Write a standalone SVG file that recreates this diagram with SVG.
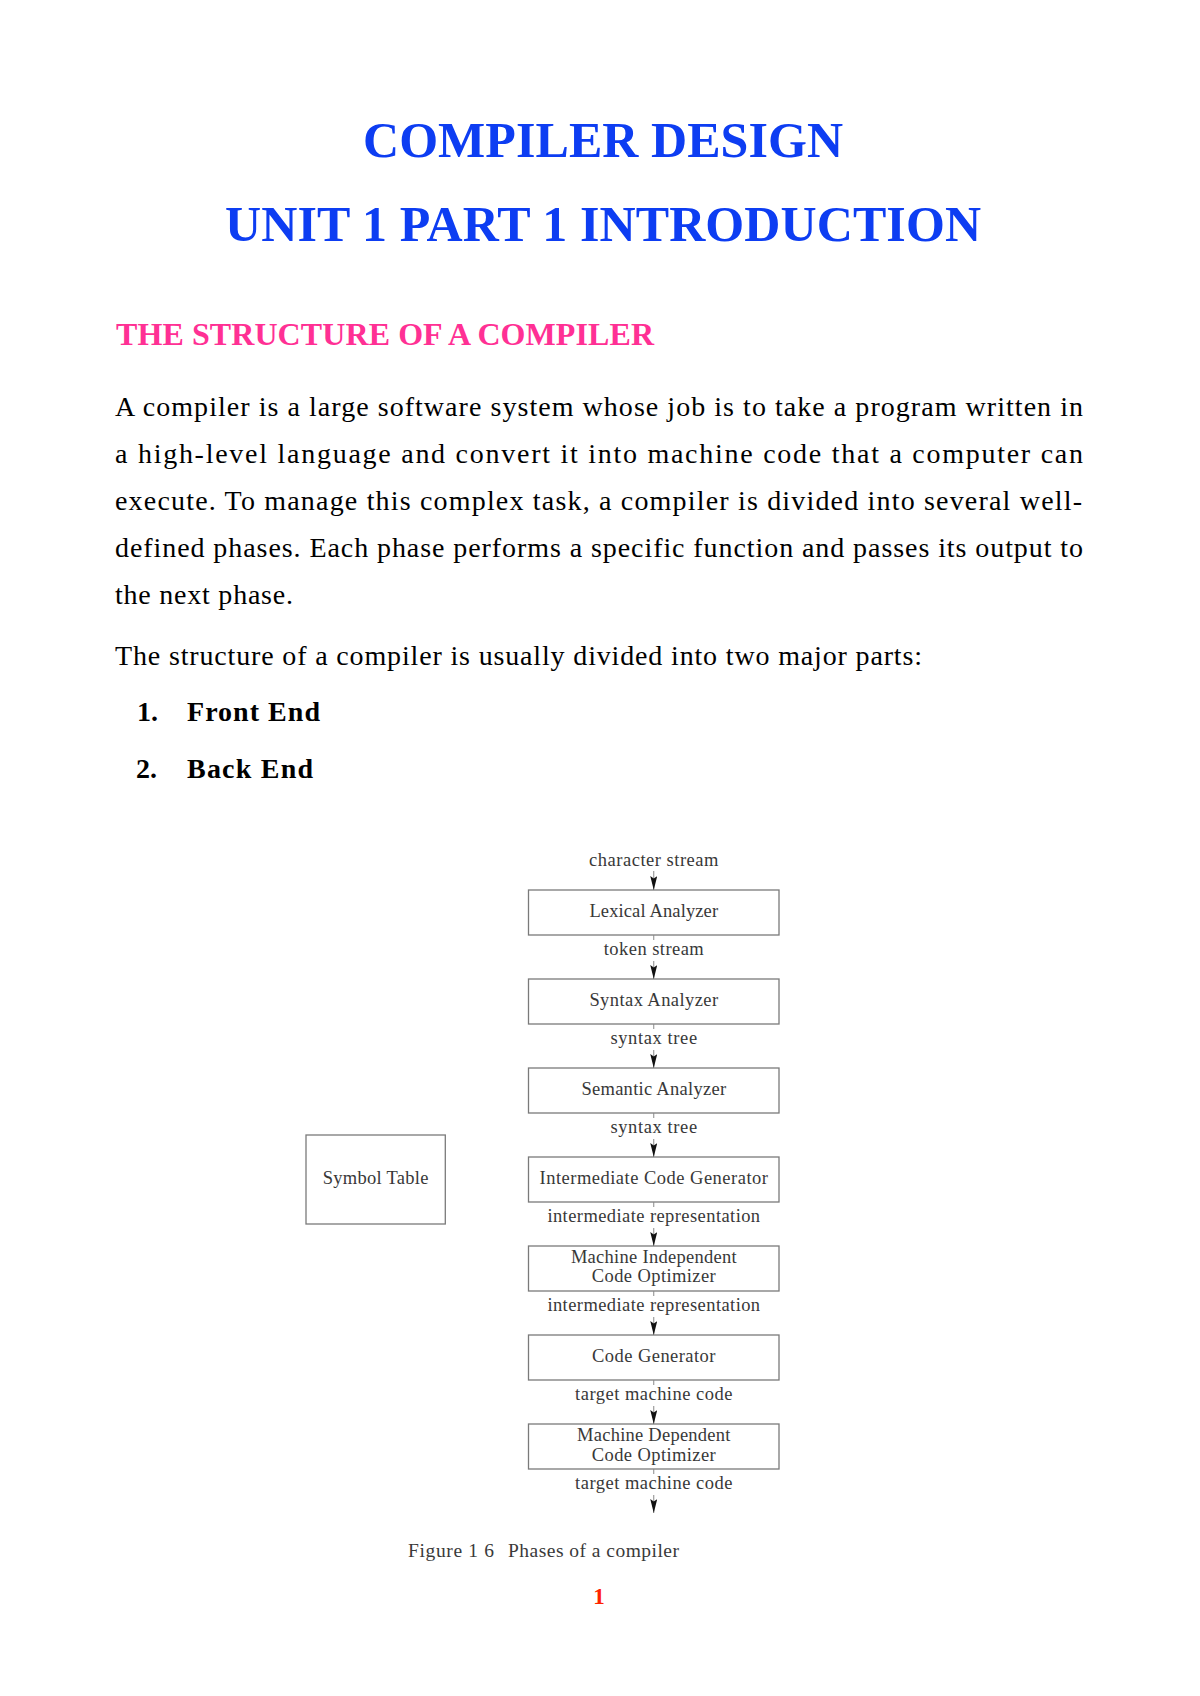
<svg xmlns="http://www.w3.org/2000/svg" width="1200" height="1696" viewBox="0 0 1200 1696">
<style>
.title{font-family:"Liberation Serif","Times New Roman",serif;font-weight:bold;font-size:50px;fill:#0d3df2;text-anchor:middle}
.head{font-family:"Liberation Serif","Times New Roman",serif;font-weight:bold;font-size:32px;fill:#ff3094}
.body{font-family:"Liberation Serif","Times New Roman",serif;font-size:28px;fill:#000}
.list{font-family:"Liberation Serif","Times New Roman",serif;font-weight:bold;font-size:28px;fill:#000}
.box{fill:#fff;stroke:#7a7a7a;stroke-width:1.3}
.lbl{font-family:"Liberation Serif","Times New Roman",serif;font-size:18.5px;fill:#383838;text-anchor:middle}
.conn{stroke:#888;stroke-width:1;fill:none}
.cap{font-family:"Liberation Serif","Times New Roman",serif;font-size:19.5px;fill:#3a3a3a}
.pg{font-family:"Liberation Serif","Times New Roman",serif;font-weight:bold;font-size:23px;fill:#ff2200;text-anchor:middle}
</style>
<defs>
<marker id="arr" viewBox="0 0 14 7" refX="14" refY="3.5" markerWidth="14" markerHeight="7" orient="auto" markerUnits="userSpaceOnUse">
<path d="M0,0 L14,3.5 L0,7 L2.5,3.5 Z" fill="#111"/>
</marker>
</defs>
<rect width="1200" height="1696" fill="#fff"/>

<text class="title" x="603" y="157" textLength="480">COMPILER DESIGN</text>
<text class="title" x="603" y="241" textLength="756">UNIT 1 PART 1 INTRODUCTION</text>

<text class="head" x="116" y="345" textLength="538">THE STRUCTURE OF A COMPILER</text>

<text class="body" x="115" y="416" textLength="968" lengthAdjust="spacing">A compiler is a large software system whose job is to take a program written in</text>
<text class="body" x="115" y="463" textLength="968" lengthAdjust="spacing">a high-level language and convert it into machine code that a computer can</text>
<text class="body" x="115" y="510" textLength="967" lengthAdjust="spacing">execute. To manage this complex task, a compiler is divided into several well-</text>
<text class="body" x="115" y="557" textLength="968" lengthAdjust="spacing">defined phases. Each phase performs a specific function and passes its output to</text>
<text class="body" x="115" y="604" textLength="178" lengthAdjust="spacing">the next phase.</text>
<text class="body" x="115" y="665" textLength="807" lengthAdjust="spacing">The structure of a compiler is usually divided into two major parts:</text>

<text class="list" x="137" y="721">1.</text>
<text class="list" x="187" y="721" textLength="133">Front End</text>
<text class="list" x="136" y="778">2.</text>
<text class="list" x="187" y="778" textLength="126">Back End</text>

<g id="lexical">
<rect class="box" x="528.5" y="890" width="250.5" height="45"/>
<text class="lbl" x="653.75" y="917" textLength="128.7">Lexical Analyzer</text>
</g>
<g id="syntax">
<rect class="box" x="528.5" y="979" width="250.5" height="45"/>
<text class="lbl" x="653.75" y="1006" textLength="128.7">Syntax Analyzer</text>
</g>
<g id="semantic">
<rect class="box" x="528.5" y="1068" width="250.5" height="45"/>
<text class="lbl" x="653.75" y="1095" textLength="144.7">Semantic Analyzer</text>
</g>
<g id="icg">
<rect class="box" x="528.5" y="1157" width="250.5" height="45"/>
<text class="lbl" x="653.75" y="1184" textLength="228.3">Intermediate Code Generator</text>
</g>
<g id="mico">
<rect class="box" x="528.5" y="1246" width="250.5" height="45"/>
<text class="lbl" x="653.75" y="1263" textLength="165.7">Machine Independent</text>
<text class="lbl" x="653.75" y="1282" textLength="124">Code Optimizer</text>
</g>
<g id="codegen">
<rect class="box" x="528.5" y="1335" width="250.5" height="45"/>
<text class="lbl" x="653.75" y="1362" textLength="123.3">Code Generator</text>
</g>
<g id="mdco">
<rect class="box" x="528.5" y="1424" width="250.5" height="45"/>
<text class="lbl" x="653.75" y="1441" textLength="153.3">Machine Dependent</text>
<text class="lbl" x="653.75" y="1461" textLength="124">Code Optimizer</text>
</g>
<g id="symtab">
<rect class="box" x="306" y="1135" width="139.3" height="89"/>
<text class="lbl" x="375.6" y="1184" textLength="105.7">Symbol Table</text>
</g>

<g id="connectors">
<text class="lbl" x="653.75" y="866" textLength="129.4">character stream</text>
<line class="conn" x1="653.75" y1="871" x2="653.75" y2="890" marker-end="url(#arr)"/>

<line class="conn" x1="653.75" y1="935" x2="653.75" y2="940"/>
<text class="lbl" x="653.75" y="955" textLength="100">token stream</text>
<line class="conn" x1="653.75" y1="961" x2="653.75" y2="979" marker-end="url(#arr)"/>

<line class="conn" x1="653.75" y1="1024" x2="653.75" y2="1029"/>
<text class="lbl" x="653.75" y="1044" textLength="86.7">syntax tree</text>
<line class="conn" x1="653.75" y1="1050" x2="653.75" y2="1068" marker-end="url(#arr)"/>

<line class="conn" x1="653.75" y1="1113" x2="653.75" y2="1118"/>
<text class="lbl" x="653.75" y="1133" textLength="86.7">syntax tree</text>
<line class="conn" x1="653.75" y1="1139" x2="653.75" y2="1157" marker-end="url(#arr)"/>

<line class="conn" x1="653.75" y1="1202" x2="653.75" y2="1207"/>
<text class="lbl" x="653.75" y="1222" textLength="212.7">intermediate representation</text>
<line class="conn" x1="653.75" y1="1228" x2="653.75" y2="1246" marker-end="url(#arr)"/>

<line class="conn" x1="653.75" y1="1291" x2="653.75" y2="1296"/>
<text class="lbl" x="653.75" y="1311" textLength="212.7">intermediate representation</text>
<line class="conn" x1="653.75" y1="1317" x2="653.75" y2="1335" marker-end="url(#arr)"/>

<line class="conn" x1="653.75" y1="1380" x2="653.75" y2="1385"/>
<text class="lbl" x="653.75" y="1400" textLength="157.3">target machine code</text>
<line class="conn" x1="653.75" y1="1406" x2="653.75" y2="1424" marker-end="url(#arr)"/>

<line class="conn" x1="653.75" y1="1469" x2="653.75" y2="1474"/>
<text class="lbl" x="653.75" y="1489" textLength="157.3">target machine code</text>
<line class="conn" x1="653.75" y1="1495" x2="653.75" y2="1513" marker-end="url(#arr)"/>
</g>

<text class="cap" x="408" y="1557" textLength="86">Figure 1 6</text>
<text class="cap" x="508" y="1557" textLength="171">Phases of a compiler</text>

<text class="pg" x="599" y="1604">1</text>
</svg>
